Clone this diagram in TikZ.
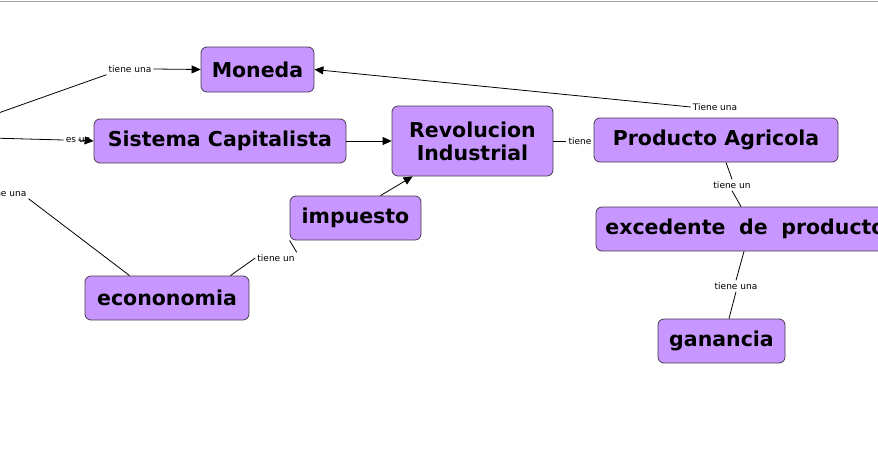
\documentclass[tikz,border=0pt]{standalone}
\usepackage{fontspec}
\setmainfont{DejaVu Sans}
\usetikzlibrary{arrows.meta,calc}
\definecolor{nodefill}{RGB}{200,150,255}
\definecolor{nodeedge}{RGB}{70,60,80}
\begin{document}
\begin{tikzpicture}[x=1pt,y=-1pt,
  concept/.style={draw=nodeedge,fill=nodefill,rounded corners=6pt,line width=0.8pt,inner sep=0pt,
    font=\fontsize{20.5}{23}\selectfont\bfseries,align=center},
  lbl/.style={font=\fontsize{9}{10}\selectfont,inner sep=2pt},
  conn/.style={draw=black,line width=0.8pt},
  arr/.style={conn,-{Triangle[length=9pt,width=8pt]}}]
\useasboundingbox (0,0) rectangle (878,461);
\fill[white] (0,0) rectangle (878,461);
\draw[gray!70,line width=1pt] (0,1) -- (878,1);
% labels first
\node[lbl] (l1) at (130,69) {tiene una};
\node[lbl] (l2) at (78,140) {es un};
\node[lbl] (l3) at (5,193) {tiene una};
\node[lbl] (l4) at (276,258) {tiene un};
\node[lbl] (l5) at (580,141) {tiene};
\node[lbl] (l6) at (715,107) {Tiene una};
\node[lbl] (l7) at (732,185) {tiene un};
\node[lbl] (l8) at (736,286) {tiene una};
\coordinate (o1) at (-10,116);
\coordinate (o2) at (-10,138);
% concepts
\node[concept,minimum width=113pt,minimum height=45pt] (mon) at (257.5,69.5) {Moneda};
\node[concept,minimum width=252pt,minimum height=44pt] (sis) at (220,141) {Sistema\ Capitalista};
\node[concept,minimum width=161pt,minimum height=70pt] (rev) at (472.5,141) {Revolucion\\Industrial};
\node[concept,minimum width=244pt,minimum height=44pt] (pro) at (716,140) {Producto\ Agricola};
\node[concept,minimum width=310pt,minimum height=44pt,text width=298pt,align=left] (exc) at (751,229) {\,excedente\ \ de\ \ producto};
\node[concept,minimum width=127pt,minimum height=44pt] (gan) at (721.5,341) {ganancia};
\node[concept,minimum width=131pt,minimum height=44pt] (imp) at (355.5,218) {impuesto};
\node[concept,minimum width=164pt,minimum height=44pt] (eco) at (167,298) {econonomia};
\coordinate (impa) at ($(imp.north)+(25,0)$);
\coordinate (reva) at ($(rev.south west)+(21,0)$);
\coordinate (ecoa) at ($(eco.north west)+(45,0)$);
\coordinate (ecob) at ($(eco.north east)+(-19,0)$);
\coordinate (proa) at ($(pro.south)+(10,0)$);
% connectors
\draw[conn] (o1) -- (l1.south west);
\draw[arr] (l1.east) -- (mon.west);
\draw[conn] (o2) -- (l2.west);
\draw[arr] (l2.center) -- (sis.west);
\draw[conn] (l3.south east) -- (ecoa);
\draw[conn] (ecob) -- (l4.west);
\draw[conn] (l4.north east) -- (imp.south west);
\draw[arr] (impa) -- (reva);
\draw[arr] (sis.east) -- (rev.west);
\draw[conn] (rev.east) -- (l5.west);
\draw[arr] (l6.west) -- (mon.east);
\draw[conn] (proa) -- (l7.north);
\draw[conn] (l7.south) -- (exc.north -| 741,0);
\draw[conn] (exc.south -| 744,0) -- (l8.north);
\draw[conn] (l8.south) -- (gan.north -| 729,0);
\end{tikzpicture}
\end{document}
